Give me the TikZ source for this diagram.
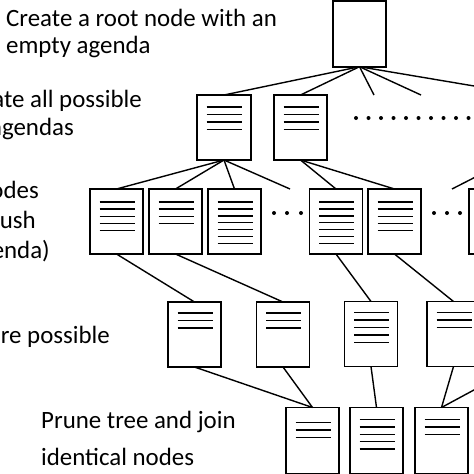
\documentclass[tikz,border=0pt]{standalone}
\usepackage{fontspec}
\setmainfont{Carlito}
\usetikzlibrary{calc}
\newcommand\doclines[4]{% node, n, top offset, spacing
  \foreach \i [evaluate=\i as \yy using #3+#4*(\i-1)] in {1,...,#2}{%
    \draw[tl] ($(#1.north west)+(9.5,\yy)$) -- ++(35,0);}}
\begin{document}
\begin{tikzpicture}[x=1pt,y=-1pt,
  box/.style={draw, line width=1.6pt, minimum width=53pt, minimum height=65pt,
    inner sep=0pt, outer sep=0pt, fill=white},
  edge/.style={line width=1.4pt},
  tl/.style={line width=1.4pt},
  lbl/.style={inner sep=0pt, font=\fontsize{24.9}{28}\selectfont}]
\useasboundingbox (0,0) rectangle (474,474);
\clip (0,0) rectangle (474,474);

% labels
\node[lbl, anchor=base west] (t1) at (6,26) {Create a root node with an};
\node[lbl, anchor=base west] (t2) at (6,53) {empty agenda};
\node[lbl, anchor=base east] (t3) at (142,107) {ate all possible};
\node[lbl, anchor=base east] (t4) at (74,135) {agendas};
\node[lbl, anchor=base east] (t5) at (39,198) {odes};
\node[lbl, anchor=base east] (t6) at (36,228) {push};
\node[lbl, anchor=base east] (t7) at (50,258) {enda)};
\node[lbl, anchor=base east] (t8) at (110,343) {ere possible};
\node[lbl, anchor=base west] (t9) at (41,428) {Prune tree and join};
\node[lbl, anchor=base west] (t10) at (41,465) {identical nodes};

% boxes
\node[box, minimum height=66pt] (root) at (359.5,33.7) {};
\node[box, minimum width=54pt] (A) at (224,127.5) {};
\node[box] (B) at (300.5,127.5) {};
\node[box] (C) at (116.5,221.5) {};
\node[box] (D) at (175.5,221.5) {};
\node[box] (E) at (234.5,221.5) {};
\node[box] (F) at (336,221.5) {};
\node[box] (G) at (394.5,221.5) {};
\node[box] (H) at (495.5,221.5) {};
\node[box] (I) at (194.5,334.5) {};
\node[box] (J) at (283,334.5) {};
\node[box] (K) at (371,334) {};
\node[box] (L) at (453.5,334) {};
\node[box, minimum height=66pt] (M) at (312.5,440.5) {};
\node[box, minimum height=66pt] (N) at (376.5,440.5) {};
\node[box, minimum height=66pt] (O) at (441.5,440.5) {};

% free ends
\coordinate (s1) at (374,95);
\coordinate (s2) at (421,95);
\coordinate (s3) at (480,87);
\coordinate (s4) at (290,189);
\coordinate (s5) at (452,189);
\coordinate (s6) at (480,174.7);
\coordinate (s7) at (480,386.7);

% connectors
\draw[edge] (root.south) -- (A.north);
\draw[edge] (root.south) -- (B.north);
\draw[edge] (root.south) -- (s1);
\draw[edge] (root.south) -- (s2);
\draw[edge] (root.south) -- (s3);
\draw[edge] (A.south) -- (C.north);
\draw[edge] (A.south) -- (D.north);
\draw[edge] (A.south) -- (E.north);
\draw[edge] (A.south) -- (s4);
\draw[edge] (B.south) -- (F.north);
\draw[edge] (B.south) -- (G.north);
\draw[edge] (s5) -- (s6);
\draw[edge] (C.south) -- (I.north);
\draw[edge] (D.south) -- (J.north);
\draw[edge] (F.south) -- (K.north);
\draw[edge] (G.south) -- (L.north);
\draw[edge] (I.south) -- (M.north);
\draw[edge] (J.south) -- (M.north);
\draw[edge] (K.south) -- (N.north);
\draw[edge] (L.south) -- (O.north);
\draw[edge] (O.north) -- (s7);

% text lines inside boxes
\doclines{A}{4}{12}{7.4}
\doclines{B}{4}{12}{7.4}
\doclines{C}{5}{13}{7.1}
\doclines{D}{4}{13}{7.1}
\doclines{E}{7}{13}{6.9}
\doclines{F}{7}{13}{6.9}
\doclines{G}{5}{13}{7.1}
\doclines{I}{3}{11}{7.5}
\doclines{J}{3}{11}{7.5}
\doclines{K}{5}{11}{7.5}
\doclines{L}{3}{11}{7.5}
\doclines{M}{3}{15}{7.5}
\doclines{N}{5}{12}{7.4}
\doclines{O}{3}{12}{7.5}

% dots
\foreach \k in {0,...,9} \fill ({356+12.5*\k},118) circle (2);
\foreach \xx in {274,287,301,434,447,460} \fill (\xx,213) circle (2);
\end{tikzpicture}
\end{document}
